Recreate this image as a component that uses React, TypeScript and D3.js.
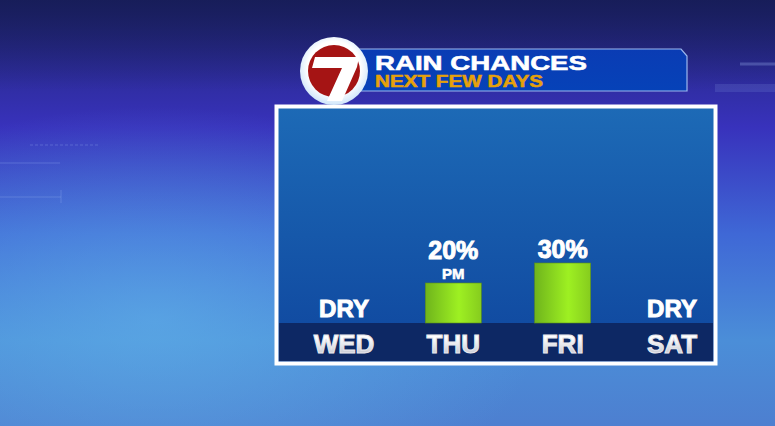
import React from "react";
import * as d3 from "d3";

const days = ["WED", "THU", "FRI", "SAT"];
const chances = [0, 20, 30, 0];
const notes = ["", "PM", "", ""];
const title = "RAIN CHANCES";
const subtitle = "NEXT FEW DAYS";

const W = 775;
const H = 426;
const FONT = "'Liberation Sans', Arial, sans-serif";

export default function App() {
  const x = d3.scalePoint().domain(days).range([344, 672]);
  const y = d3.scaleLinear().domain([0, 100]).range([323, 123]);
  const barW = 56;

  const bannerPath = d3.path();
  bannerPath.moveTo(350, 49);
  bannerPath.lineTo(681, 49);
  bannerPath.lineTo(687, 56);
  bannerPath.lineTo(687, 91);
  bannerPath.lineTo(350, 91);
  bannerPath.closePath();

  // the "7" of the station logo
  const seven = d3.line()([
    [315, 57], [359, 57], [357, 67], [342, 101], [327, 101], [342, 68], [312, 68],
  ]) + "Z";

  return (
    <div style={{ position: "fixed", left: 0, top: 0, width: W, height: H }}>
      <svg width={W} height={H} style={{ display: "block" }}>
        <defs>
          <linearGradient id="bg" x1="0" y1="0" x2="0" y2="1">
            <stop offset="0" stopColor="#1f2470" />
            <stop offset="0.3" stopColor="#3832bc" />
            <stop offset="0.55" stopColor="#3f68d6" />
            <stop offset="0.8" stopColor="#4b8ed8" />
            <stop offset="1" stopColor="#4d7fd0" />
          </linearGradient>
          <radialGradient id="glow" cx="0.2" cy="0.75" r="0.5">
            <stop offset="0" stopColor="#62b4ea" stopOpacity="0.6" />
            <stop offset="1" stopColor="#62b4ea" stopOpacity="0" />
          </radialGradient>
          <linearGradient id="dark" x1="0" y1="0" x2="0" y2="1">
            <stop offset="0" stopColor="#141a50" stopOpacity="0.7" />
            <stop offset="1" stopColor="#141a50" stopOpacity="0" />
          </linearGradient>
          <linearGradient id="panel" x1="0" y1="0" x2="0" y2="1">
            <stop offset="0" stopColor="#1d6ab6" />
            <stop offset="1" stopColor="#0f469e" />
          </linearGradient>
          <linearGradient id="banner" x1="0" y1="0" x2="0" y2="1">
            <stop offset="0" stopColor="#0a3cb4" />
            <stop offset="1" stopColor="#0642b8" />
          </linearGradient>
          <linearGradient id="bar" x1="0" y1="0" x2="1" y2="0">
            <stop offset="0" stopColor="#6fb41c" />
            <stop offset="0.6" stopColor="#9ef022" />
            <stop offset="1" stopColor="#86cc1e" />
          </linearGradient>
          <linearGradient id="dayText" x1="0" y1="0" x2="0" y2="1">
            <stop offset="0.3" stopColor="#ffffff" />
            <stop offset="1" stopColor="#b4b8c4" />
          </linearGradient>
          <radialGradient id="logoRing" cx="0.5" cy="0.45" r="0.55">
            <stop offset="0.7" stopColor="#ffffff" />
            <stop offset="1" stopColor="#cfe6fa" />
          </radialGradient>
        </defs>

        {/* background */}
        <rect width={W} height={H} fill="url(#bg)" />
        <rect width={W} height={H} fill="url(#glow)" />
        <rect width={W} height={90} fill="url(#dark)" />
        <g stroke="#9ab4f0" strokeOpacity={0.3} fill="none">
          <line x1={0} y1={163} x2={60} y2={163} />
          <line x1={0} y1={197} x2={61} y2={197} />
          <line x1={61} y1={190} x2={61} y2={203} />
          <line x1={30} y1={145} x2={100} y2={145} strokeDasharray="3 2" />
          <line x1={740} y1={64} x2={775} y2={64} strokeWidth={3} />
          <line x1={715} y1={88} x2={775} y2={88} strokeWidth={8} strokeOpacity={0.15} />
        </g>

        {/* panel */}
        <rect x={276.5} y={106.5} width={439} height={257} fill="url(#panel)" stroke="#ffffff" strokeWidth={4} />
        <rect x={279} y={323} width={434} height={38} fill="#0d2864" />

        {/* bars */}
        {days.map((d, i) => {
          const cx = x(d) as number;
          const v = chances[i];
          if (v === 0) {
            return (
              <text key={d} x={cx} y={y(0) - 6} textAnchor="middle" fill="#ffffff"
                fontFamily={FONT} fontWeight="bold" fontSize={24}
                stroke="#ffffff" strokeWidth={1}>DRY</text>
            );
          }
          const top = y(v);
          return (
            <g key={d}>
              <rect x={cx - barW / 2} y={top} width={barW} height={y(0) - top}
                fill="url(#bar)" stroke="#5a8e1a" strokeWidth={0.6} />
              {notes[i] && (
                <text x={cx} y={top - 4} textAnchor="middle" fill="#ffffff"
                  fontFamily={FONT} fontWeight="bold" fontSize={15}
                  stroke="#ffffff" strokeWidth={0.6}>{notes[i]}</text>
              )}
              <text x={cx} y={notes[i] ? top - 24 : top - 5} textAnchor="middle" fill="#ffffff"
                fontFamily={FONT} fontWeight="bold" fontSize={25}
                stroke="#ffffff" strokeWidth={1}>{v}%</text>
            </g>
          );
        })}

        {/* day labels */}
        {days.map((d) => (
          <text key={"lbl" + d} x={x(d) as number} y={353} textAnchor="middle"
            fill="url(#dayText)" fontFamily={FONT} fontWeight="bold" fontSize={26}
            stroke="#e8e8ee" strokeWidth={1}>{d}</text>
        ))}

        {/* banner */}
        <path d={bannerPath.toString()} fill="url(#banner)" stroke="#9cb8ee" strokeWidth={1.2} />
        <text x={375} y={70} fill="#ffffff" fontFamily={FONT} fontWeight="bold" fontSize={21}
          textLength={212} lengthAdjust="spacingAndGlyphs" stroke="#ffffff" strokeWidth={0.6}>{title}</text>
        <text x={375} y={87} fill="#e6a10a" fontFamily={FONT} fontWeight="bold" fontSize={16}
          textLength={168} lengthAdjust="spacingAndGlyphs" stroke="#e6a10a" strokeWidth={0.5}>{subtitle}</text>

        {/* logo */}
        <circle cx={334} cy={71} r={34} fill="url(#logoRing)" />
        <circle cx={334} cy={71} r={26} fill="#a51414" />
        <path d={seven} fill="#ffffff" />
      </svg>
    </div>
  );
}
